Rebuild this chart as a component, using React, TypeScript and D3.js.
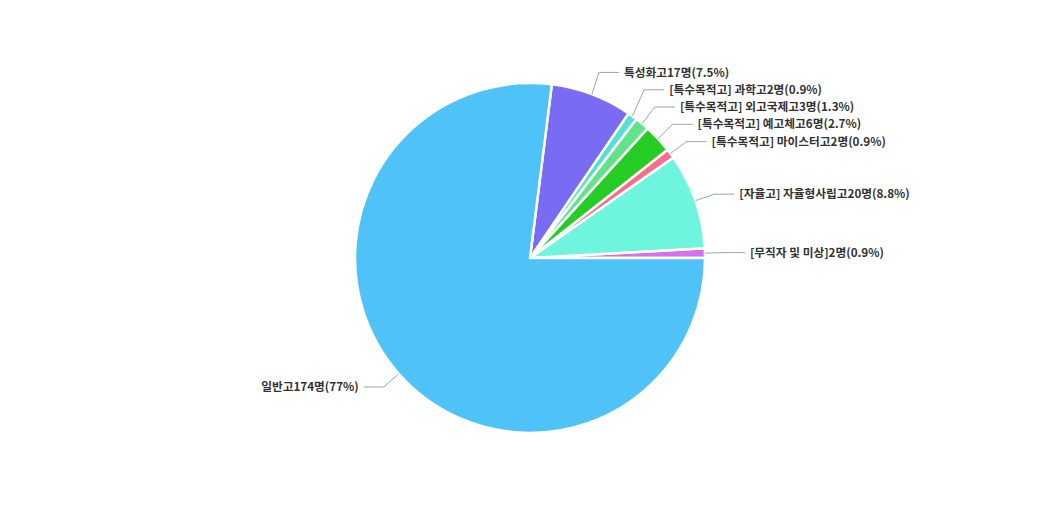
import { useEffect, useRef } from "react";
import * as d3 from "d3";

// slices in drawing order (counter-clockwise from 3 o'clock)
const names = [
  "[무직자 및 미상]",
  "[자율고] 자율형사립고",
  "[특수목적고] 마이스터고",
  "[특수목적고] 예고체고",
  "[특수목적고] 외고국제고",
  "[특수목적고] 과학고",
  "특성화고",
  "일반고",
];
const counts = [2, 20, 2, 6, 3, 2, 17, 174];
const pcts = ["0.9%", "8.8%", "0.9%", "2.7%", "1.3%", "0.9%", "7.5%", "77%"];
const colors = ["#d56ff4", "#6ff5de", "#ff6b8a", "#24cc24", "#62e38a", "#54e0d4", "#7a6cf2", "#4fc3f7"];

const W = 1061;
const H = 515;

export default function App() {
  const ref = useRef<SVGSVGElement>(null);

  useEffect(() => {
    if (!ref.current) return;
    const svg = d3.select(ref.current);
    svg.selectAll("*").remove();

    const cx = 530;
    const cy = 258;
    const r = 175;
    const len1 = 20;
    const len2 = 20;
    const gap = 17.3;

    const data = names.map((n, i) => ({ name: n, count: counts[i], pct: pcts[i], color: colors[i] }));

    const pie = d3
      .pie<any>()
      .value((d: any) => d.count)
      .sort(null)
      .startAngle(Math.PI / 2)
      .endAngle(Math.PI / 2 - Math.PI * 2);
    const arcs = pie(data);

    const arc = d3.arc<any>().innerRadius(0).outerRadius(r);

    const g = svg.append("g").attr("transform", `translate(${cx},${cy})`);

    g.append("g")
      .selectAll("path")
      .data(arcs)
      .join("path")
      .attr("d", arc)
      .attr("fill", (d: any) => d.data.color)
      .attr("stroke", "#fff")
      .attr("stroke-width", 2.5)
      .attr("stroke-linejoin", "round");

    // label layout: radial segment, then horizontal, pushed apart vertically
    const items = arcs.map((d: any) => {
      const a = (d.startAngle + d.endAngle) / 2;
      const s = Math.sin(a);
      const c = Math.cos(a);
      const side = s >= 0 ? 1 : -1;
      return {
        d,
        side,
        sx: r * s,
        sy: -r * c,
        ex: (r + len1) * s,
        ey: -(r + len1) * c,
      };
    });

    [1, -1].forEach((side) => {
      const list = items.filter((it) => it.side === side).sort((a, b) => a.ey - b.ey);
      for (let i = list.length - 2; i >= 0; i--) {
        if (list[i].ey > list[i + 1].ey - gap) list[i].ey = list[i + 1].ey - gap;
      }
    });

    const lab = g.append("g");

    lab
      .selectAll("polyline")
      .data(items)
      .join("polyline")
      .attr("points", (it: any) => `${it.sx},${it.sy} ${it.ex},${it.ey} ${it.ex + it.side * len2},${it.ey}`)
      .attr("fill", "none")
      .attr("stroke", "#9aa5b0")
      .attr("stroke-width", 1);

    lab
      .selectAll("text")
      .data(items)
      .join("text")
      .attr("x", (it: any) => it.ex + it.side * (len2 + 5))
      .attr("y", (it: any) => it.ey)
      .attr("dy", "0.35em")
      .attr("text-anchor", (it: any) => (it.side > 0 ? "start" : "end"))
      .attr("font-family", "'Noto Sans CJK KR', 'Noto Sans', sans-serif")
      .attr("font-size", 11.7)
      .attr("font-weight", "bold")
      .attr("fill", "#333")
      .text((it: any) => `${it.d.data.name}${it.d.data.count}명(${it.d.data.pct})`);
  }, []);

  return (
    <>
      <style>{"body{margin:0}"}</style>
      <svg ref={ref} width={W} height={H} style={{ display: "block", background: "#fff" }} />
    </>
  );
}
